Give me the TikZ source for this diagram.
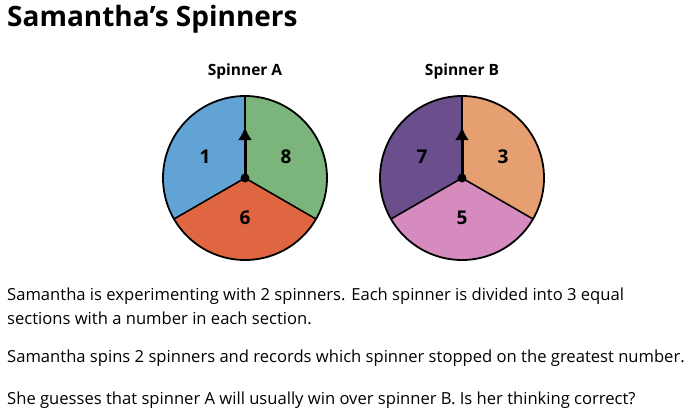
\documentclass[tikz,border=0pt]{standalone}
\usepackage{fontspec}
\setmainfont{Open Sans}
\usetikzlibrary{arrows.meta,calc}
\definecolor{cblue}{HTML}{62A3D6}
\definecolor{cgreen}{HTML}{7BB57C}
\definecolor{corange}{HTML}{DF6641}
\definecolor{cpurple}{HTML}{6B4E8C}
\definecolor{cpeach}{HTML}{E59F71}
\definecolor{cpink}{HTML}{D68BBE}
\tikzset{
  num/.style={font=\bfseries\fontsize{19}{19}\selectfont, text=black},
  body/.style={anchor=west, font=\fontsize{16.6}{18}\selectfont, inner sep=0pt},
  spinlabel/.style={font=\bfseries\fontsize{15.5}{17}\selectfont},
  ptr/.style={line width=3pt, -{Latex[length=13pt,width=14pt]}}
}
\begin{document}
\begin{tikzpicture}[x=1pt,y=-1pt]
\useasboundingbox (0,0) rectangle (700,417);
\node[anchor=west, inner sep=0pt, font=\bfseries\fontsize{28}{30}\selectfont] (title) at (7,19) {Samantha\char"27 s Spinners};
\node[spinlabel] (la) at (245,71) {Spinner A};
\node[spinlabel] (lb) at (462,71) {Spinner B};
% Spinner A (center 245,178)
\fill[cblue] (245,178) -- (245,96) arc[start angle=-90,end angle=-210,radius=82] -- cycle;
\fill[cgreen] (245,178) -- (245,96) arc[start angle=-90,end angle=30,radius=82] -- cycle;
\fill[corange] (245,178) -- ($(245,178)+(150:82)$) arc[start angle=150,end angle=30,radius=82] -- cycle;
\draw[line width=1.6pt] (245,178) -- (245,96) (245,178) -- ($(245,178)+(150:82)$) (245,178) -- ($(245,178)+(30:82)$);
\draw[line width=1.8pt] (245,178) circle (82);
\draw[ptr] (245,178) -- (245,127);
\fill (245,178) circle (4.5);
\node[num] (a1) at (205,157) {1};
\node[num] (a8) at (286,157) {8};
\node[num] (a6) at (245,218) {6};
% Spinner B (center 462,178)
\fill[cpurple] (462,178) -- (462,96) arc[start angle=-90,end angle=-210,radius=82] -- cycle;
\fill[cpeach] (462,178) -- (462,96) arc[start angle=-90,end angle=30,radius=82] -- cycle;
\fill[cpink] (462,178) -- ($(462,178)+(150:82)$) arc[start angle=150,end angle=30,radius=82] -- cycle;
\draw[line width=1.6pt] (462,178) -- (462,96) (462,178) -- ($(462,178)+(150:82)$) (462,178) -- ($(462,178)+(30:82)$);
\draw[line width=1.8pt] (462,178) circle (82);
\draw[ptr] (462,178) -- (462,127);
\fill (462,178) circle (4.5);
\node[num] (b7) at (422,157) {7};
\node[num] (b3) at (503,157) {3};
\node[num] (b5) at (462,218) {5};
% text
\node[body] (t1) at (7,296) {Samantha is experimenting with 2 spinners. Each spinner is divided into 3 equal};
\node[body] (t2) at (7,318) {sections with a number in each section.};
\node[body] (t3) at (7,358) {Samantha spins 2 spinners and records which spinner stopped on the greatest number.};
\node[body] (t4) at (7,400) {She guesses that spinner A will usually win over spinner B. Is her thinking correct?};
\end{tikzpicture}
\end{document}
